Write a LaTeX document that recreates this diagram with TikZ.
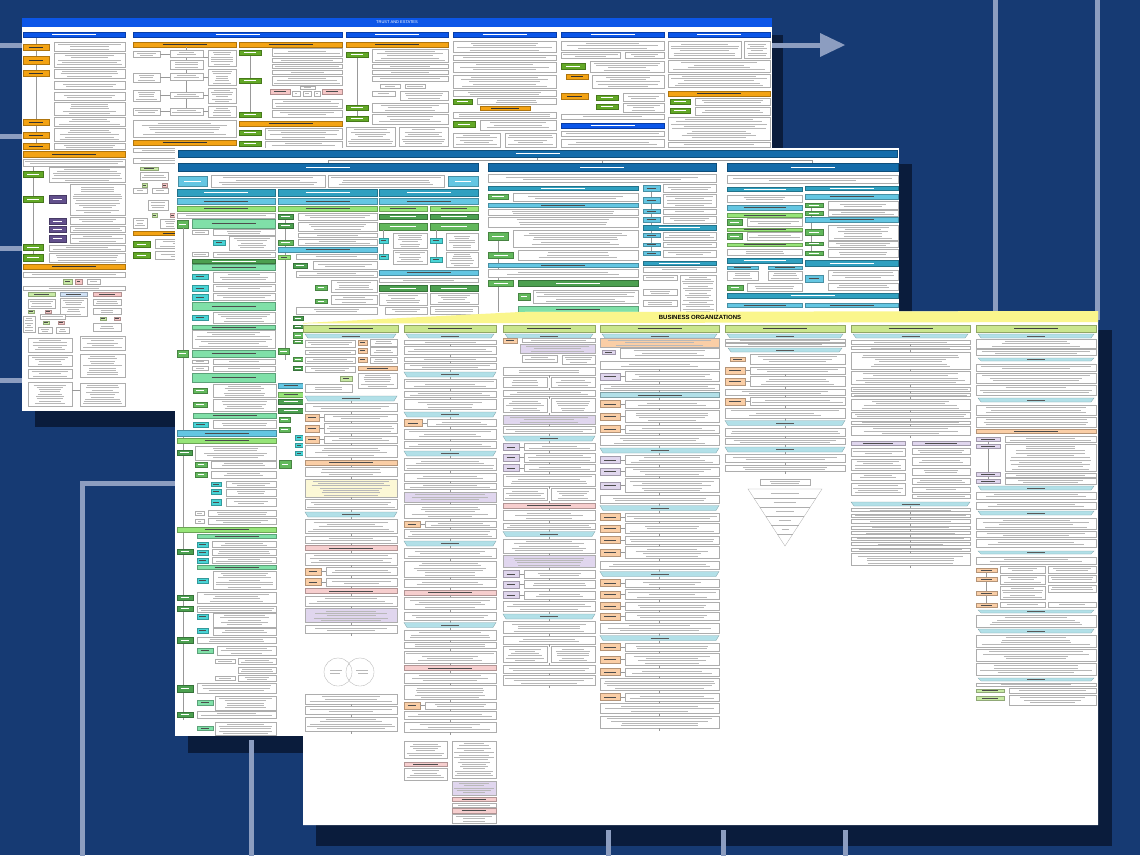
\documentclass[tikz,border=0pt]{standalone}
\usepackage{fontspec}
\newfontfamily\hfont{Liberation Sans}
\definecolor{bgnavy}{RGB}{22,58,115}
\definecolor{shad}{RGB}{10,28,60}
\definecolor{gridc}{RGB}{140,157,192}
\definecolor{sAblue}{RGB}{12,86,232}
\definecolor{sAorange}{RGB}{243,163,20}
\definecolor{sAgreen}{RGB}{98,168,38}
\definecolor{sApurple}{RGB}{98,80,140}
\definecolor{sAlgreen}{RGB}{200,234,165}
\definecolor{sApink}{RGB}{246,198,198}
\definecolor{sAlblue}{RGB}{208,226,246}
\definecolor{sBblue}{RGB}{20,108,170}
\definecolor{sBteal}{RGB}{48,160,192}
\definecolor{sBlblue}{RGB}{100,198,226}
\definecolor{sBgreen}{RGB}{98,184,92}
\definecolor{sBdgreen}{RGB}{76,160,80}
\definecolor{sBmint}{RGB}{128,224,168}
\definecolor{sBcyan}{RGB}{72,212,214}
\definecolor{sBlgreen}{RGB}{150,228,120}
\definecolor{sCgreen}{RGB}{202,230,142}
\definecolor{sClblue}{RGB}{178,224,232}
\definecolor{sCpeach}{RGB}{250,206,166}
\definecolor{sClilac}{RGB}{224,214,238}
\definecolor{sCpink}{RGB}{246,206,206}
\definecolor{sCyellow}{RGB}{250,246,140}
\definecolor{sCcream}{RGB}{252,248,214}
\tikzset{
  txl/.style={draw=black!28,line width=0.45pt},
  bx/.style={draw=black!32,line width=0.3pt},
  cn/.style={draw=black!40,line width=0.3pt},
  gridln/.style={draw=gridc,line width=5pt},
}
\def\zzgap{2.5}
\newcommand\zzTB[5]{%
  \fill[#5] (#1,#2) rectangle (#3,#4);
  \pgfmathsetmacro\zzh{#4-#2}%
  \pgfmathtruncatemacro\zzn{max(1,floor((\zzh-1.2)/2.3))}%
  \pgfmathsetmacro\zzw{(#3-#1-4)/2}%
  \pgfmathsetmacro\zzc{(#1+#3)/2}%
  \pgfmathsetmacro\zzyo{#2+(\zzh-(\zzn-1)*2.3)/2}%
  \foreach \zzk in {1,...,\zzn}{%
    \pgfmathsetmacro\zzly{\zzyo+(\zzk-1)*2.3}%
    \pgfmathsetmacro\zzlw{\zzw*(0.5+0.5*rnd)}%
    \draw[txl] (\zzc-\zzlw,\zzly) -- (\zzc+\zzlw,\zzly);
  }%
  \draw[bx] (#1,#2) rectangle (#3,#4);
}
\newcommand\zzT[4]{\zzTB{#1}{#2}{#3}{#4}{white}}
\newcommand\zzTG[6]{%
  \filldraw[fill=#5,draw=#5!72!black,line width=0.3pt] (#1,#2) rectangle (#3,#4);
  \pgfmathsetmacro\zzgc{(#1+#3)/2}%
  \pgfmathsetmacro\zzgm{(#2+#4)/2}%
  \pgfmathsetmacro\zzgw{min(22,(#3-#1)*0.28)}%
  \draw[#6,line width=0.6pt] (\zzgc-\zzgw,\zzgm) -- (\zzgc+\zzgw,\zzgm);
}
\newcommand\zzTZ[5]{%
  \pgfmathsetmacro\zzua{#1+3}\pgfmathsetmacro\zzub{#3-3}%
  \filldraw[fill=#5,draw=#5!72!black,line width=0.3pt] (#1,#2) -- (#3,#2) -- (\zzub,#4) -- (\zzua,#4) -- cycle;
  \pgfmathsetmacro\zzgc{(#1+#3)/2}\pgfmathsetmacro\zzgm{(#2+#4)/2}%
  \draw[black!65,line width=0.5pt] (\zzgc-9,\zzgm) -- (\zzgc+9,\zzgm);
}
\newcommand\zzcol[3]{\xdef\zza{#1}\xdef\zzb{#2}\xdef\zzy{#3}}
\newcommand\zzadv[1]{%
  \pgfmathsetmacro\zzt{\zzy+#1}\pgfmathsetmacro\zzcc{(\zza+\zzb)/2}%
  \draw[cn] (\zzcc,\zzt) -- (\zzcc,\zzt+\zzgap);
  \pgfmathsetmacro\zzt{\zzy+#1+\zzgap}\xdef\zzy{\zzt}}
\newcommand\zzB[1]{\pgfmathsetmacro\zze{\zzy+#1}\zzTB{\zza}{\zzy}{\zzb}{\zze}{white}\zzadv{#1}}
\newcommand\zzF[2]{\pgfmathsetmacro\zze{\zzy+#1}\zzTB{\zza}{\zzy}{\zzb}{\zze}{#2}\zzadv{#1}}
\newcommand\zzH[3]{\pgfmathsetmacro\zze{\zzy+#1}\zzTG{\zza}{\zzy}{\zzb}{\zze}{#2}{#3}\zzadv{#1}}
\newcommand\zzZ[2]{\pgfmathsetmacro\zze{\zzy+#1}\zzTZ{\zza}{\zzy}{\zzb}{\zze}{#2}\zzadv{#1}}
\newcommand\zzD[1]{\pgfmathsetmacro\zze{\zzy+#1}\pgfmathsetmacro\zzma{(\zza+\zzb)/2-2}\pgfmathsetmacro\zzmb{(\zza+\zzb)/2+2}\zzTB{\zza}{\zzy}{\zzma}{\zze}{white}\zzTB{\zzmb}{\zzy}{\zzb}{\zze}{white}\zzadv{#1}}
\newcommand\zzR[4]{%
  \pgfmathsetmacro\zze{\zzy+#1}%
  \pgfmathsetmacro\zzrm{\zzy+#1/2}%
  \pgfmathsetmacro\zzq{min(#1,7)/2}%
  \pgfmathsetmacro\zzta{\zzrm-\zzq}\pgfmathsetmacro\zztb{\zzrm+\zzq}%
  \pgfmathsetmacro\zzxt{\zza+#2}\pgfmathsetmacro\zzxb{\zza+#2+5}%
  \zzTG{\zza}{\zzta}{\zzxt}{\zztb}{#3}{#4}%
  \draw[cn] (\zzxt,\zzrm) -- (\zzxb,\zzrm);
  \zzTB{\zzxb}{\zzy}{\zzb}{\zze}{white}%
  \zzadv{#1}}
\begin{document}
\begin{tikzpicture}[x=1pt,y=-1pt]
\pgfmathsetseed{7}
\useasboundingbox (0,0) rectangle (1140,855);
\fill[bgnavy] (0,0) rectangle (1140,855);
% background grid lines
\draw[gridln] (0,45) -- (30,45);
\draw[gridln] (0,136) -- (30,136);
\draw[gridln] (0,248) -- (30,248);
\draw[gridln] (0,380) -- (30,380);
\draw[gridln] (82,860) -- (82,483) -- (180,483);
\draw[gridln] (995,-5) -- (995,320);
\draw[gridln] (1097,-5) -- (1097,320);

% ================= SHEET 1 : TRUST AND ESTATES =================
\fill[shad] (35,35) rectangle (783,427);
\fill[white] (22,18) rectangle (772,411);
\fill[sAblue] (22,18) rectangle (772,27);
\node[font=\hfont\fontsize{4}{5}\selectfont,text=white,inner sep=0pt] (t1) at (397,22.5) {TRUST AND ESTATES};
\foreach \xa/\xb in {23/125,133/342,346/448,453/556,561/664,668/770}{\zzTG{\xa}{32}{\xb}{37}{sAblue}{white}}
% col 1
\draw[cn] (36,38) -- (36,148);
\zzTG{23}{44}{49}{50}{sAorange}{black!80} \zzT{54}{42}{125}{51}
\zzTG{23}{56}{49}{64}{sAorange}{black!80} \zzT{54}{53}{125}{67}
\zzTG{23}{70}{49}{76}{sAorange}{black!80} \zzT{54}{69}{125}{78}
\zzT{54}{81}{125}{89}
\zzT{54}{92}{125}{100}
\zzT{54}{102}{125}{115}
\zzTG{23}{119}{49}{125}{sAorange}{black!80} \zzT{54}{117}{125}{126}
\zzTG{23}{132}{49}{138}{sAorange}{black!80} \zzT{54}{128}{125}{141}
\zzTG{23}{143}{49}{149}{sAorange}{black!80} \zzT{54}{143}{125}{149}
\zzTG{23}{151}{125}{157}{sAorange}{black!80}
\zzT{23}{159}{125}{166}
\draw[cn] (33,167) -- (33,257);
\zzTG{23}{171}{43}{177}{sAgreen}{white} \zzT{49}{167}{125}{182}
\zzTG{23}{196}{43}{202}{sAgreen}{white} \zzTG{49}{195}{66}{203}{sApurple}{white} \zzT{70}{184}{125}{215}
\zzTG{49}{218}{66}{224}{sApurple}{white} \zzT{70}{217}{125}{224}
\zzTG{49}{226}{66}{232}{sApurple}{white} \zzT{70}{226}{125}{232}
\zzTG{49}{235}{66}{242}{sApurple}{white} \zzT{70}{234}{125}{243}
\zzTG{23}{244}{43}{250}{sAgreen}{white} \zzT{49}{245}{125}{251}
\zzTG{23}{254}{43}{261}{sAgreen}{white} \zzT{49}{253}{125}{262}
\zzTG{23}{264}{125}{269}{sAorange}{black!80}
\zzT{23}{272}{125}{277}
\zzTG{63}{279}{72}{284}{sAlgreen}{black!70} \zzTG{75}{279}{82}{284}{sApink}{black!70} \zzT{87}{279}{100}{284}
\zzT{23}{286}{125}{290}
\zzTG{28}{292}{55}{296}{sAlgreen}{black!70} \zzTG{60}{292}{87}{296}{sAlblue}{black!70} \zzTG{93}{292}{121}{296}{sApink}{black!70}
\zzT{28}{299}{55}{308} \zzT{60}{298}{87}{316} \zzT{93}{299}{121}{305}
\zzTG{28}{310}{34}{313}{sAlgreen}{black!70} \zzTG{45}{310}{51}{313}{sApink}{black!70} \zzT{93}{308}{121}{314}
\zzT{23}{316}{35}{332} \zzT{40}{314}{65}{319}
\zzTG{100}{317}{106}{320}{sAlgreen}{black!70} \zzTG{114}{317}{120}{320}{sApink}{black!70}
\zzTG{43}{321}{49}{324}{sAlgreen}{black!70} \zzTG{58}{321}{64}{324}{sApink}{black!70} \zzT{93}{323}{121}{331}
\zzT{38}{327}{52}{333} \zzT{56}{327}{69}{333}
\zzT{28}{338}{72}{352} \zzT{28}{355}{72}{366} \zzT{28}{369}{72}{378} \zzT{28}{382}{72}{406}
\zzT{80}{336}{125}{350} \zzT{80}{354}{125}{377} \zzT{80}{383}{125}{406}
\draw[cn] (72,390) -- (80,390);
% col 2
\zzTG{133}{42}{236}{47}{sAorange}{black!80} \zzTG{239}{42}{342}{47}{sAorange}{black!80}
\draw[cn] (186,47) -- (186,108);
\zzT{133}{51}{160}{57} \zzT{170}{50}{203}{57} \zzT{208}{50}{236}{66}
\zzT{170}{60}{203}{69}
\zzT{133}{73}{160}{82} \zzT{170}{73}{203}{80} \zzT{208}{69}{236}{85}
\zzT{133}{90}{160}{101} \zzT{170}{92}{203}{98} \zzT{208}{88}{236}{103}
\zzT{133}{108}{160}{115} \zzT{170}{108}{203}{115} \zzT{208}{106}{236}{117}
\draw[cn] (160,54) -- (170,54) (160,77) -- (170,77) (160,95) -- (170,95) (160,111) -- (170,111) (203,57) -- (208,57) (203,77) -- (208,77) (203,95) -- (208,95) (203,111) -- (208,111);
\zzT{133}{120}{236}{137}
\zzTG{133}{140}{236}{145}{sAorange}{black!80}
\zzT{133}{148}{236}{152}
\zzT{133}{158}{236}{163}
\zzTG{140}{167}{158}{170}{sAlgreen}{black!70}
\zzT{140}{172}{168}{180}
\zzTG{142}{183}{147}{187}{sAlgreen}{black!70} \zzTG{162}{183}{167}{187}{sApink}{black!70}
\zzT{133}{188}{147}{193} \zzT{152}{188}{168}{193}
\zzT{148}{200}{168}{210}
\zzTG{152}{213}{157}{217}{sAlgreen}{black!70} \zzTG{170}{213}{175}{217}{sApink}{black!70}
\zzT{133}{218}{147}{228} \zzT{160}{219}{180}{228}
\zzTG{133}{231}{236}{235}{sAorange}{black!80}
\zzTG{133}{241}{150}{247}{sAgreen}{white} \zzT{155}{239}{236}{248}
\zzTG{133}{252}{150}{258}{sAgreen}{white} \zzT{155}{251}{236}{259}
\draw[cn] (250,55) -- (250,117);
\zzTG{239}{50}{261}{55}{sAgreen}{white} \zzT{272}{48}{342}{56}
\zzT{272}{58}{342}{62} \zzT{272}{64}{342}{68} \zzT{272}{70}{342}{74}
\zzTG{239}{78}{261}{83}{sAgreen}{white} \zzT{272}{76}{342}{85}
\zzT{300}{86}{315}{89}
\zzTG{270}{89}{290}{94}{sApink}{black!70} \zzTG{322}{89}{342}{94}{sApink}{black!70}
\zzT{292}{91}{300}{96} \zzT{303}{91}{311}{96} \zzT{314}{91}{320}{96}
\zzT{272}{99}{342}{108}
\zzTG{239}{112}{261}{117}{sAgreen}{white} \zzT{272}{110}{342}{117}
\zzTG{239}{121}{342}{126}{sAorange}{black!80}
\zzTG{239}{130}{261}{135}{sAgreen}{white} \zzT{265}{128}{342}{139}
\zzTG{239}{141}{261}{146}{sAgreen}{white} \zzT{265}{141}{342}{148}
% col 3
\zzTG{346}{42}{448}{47}{sAorange}{black!80}
\draw[cn] (357,57) -- (357,116);
\zzTG{346}{52}{368}{57}{sAgreen}{white} \zzT{372}{49}{448}{62}
\zzT{372}{64}{448}{68} \zzT{372}{70}{448}{74} \zzT{372}{76}{448}{81}
\zzT{380}{84}{400}{88} \zzT{405}{84}{425}{88} \zzT{372}{91}{395}{96} \zzT{400}{91}{448}{100}
\zzTG{346}{105}{368}{110}{sAgreen}{white} \zzT{372}{103}{448}{112}
\zzTG{346}{116}{368}{121}{sAgreen}{white} \zzT{372}{114}{448}{124}
\zzT{346}{127}{395}{146} \zzT{399}{127}{448}{146}
% col 4
\zzT{453}{41}{556}{52} \zzT{453}{55}{556}{60} \zzT{453}{62}{556}{72} \zzT{453}{75}{556}{88} \zzT{453}{90}{556}{96}
\zzTG{453}{99}{472}{104}{sAgreen}{white} \zzT{477}{98}{556}{104}
\zzTG{480}{106}{530}{110}{sAorange}{black!80}
\zzT{453}{112}{556}{118}
\zzTG{453}{121}{475}{127}{sAgreen}{white} \zzT{480}{120}{556}{130}
\zzT{453}{133}{500}{147} \zzT{505}{133}{556}{147}
% col 5
\zzT{561}{41}{664}{50} \zzT{561}{52}{620}{58} \zzT{625}{52}{664}{58}
\zzTG{561}{63}{585}{69}{sAgreen}{white} \zzT{590}{61}{664}{72}
\zzTG{566}{74}{588}{79}{sAorange}{black!80} \zzT{592}{75}{664}{88}
\zzTG{561}{93}{588}{99}{sAorange}{black!80}
\zzTG{596}{95}{618}{100}{sAgreen}{white} \zzT{623}{93}{664}{101}
\zzTG{596}{104}{618}{109}{sAgreen}{white} \zzT{623}{103}{664}{112}
\zzT{561}{114}{664}{119}
\zzTG{561}{123}{664}{128}{sAblue}{white}
\zzT{561}{131}{664}{136} \zzT{561}{139}{664}{147}
% col 6
\zzT{668}{41}{741}{58} \zzT{744}{41}{770}{58} \zzT{668}{60}{770}{72} \zzT{668}{74}{770}{87}
\zzTG{668}{91}{770}{96}{sAorange}{black!80}
\zzTG{670}{99}{690}{104}{sAgreen}{white} \zzT{695}{98}{770}{105}
\zzTG{670}{108}{690}{113}{sAgreen}{white} \zzT{695}{107}{770}{115}
\zzT{668}{117}{770}{140} \zzT{668}{142}{770}{147}
% arrow
\draw[gridln] (772,45) -- (822,45);
\fill[gridc] (820,33) -- (845,45) -- (820,57) -- cycle;

% ================= SHEET 2 =================
\fill[shad] (188,164) rectangle (912,753);
\draw[gridln] (251,740) -- (251,860);
\fill[white] (175,148) rectangle (899,736);
\zzTG{178}{150}{897}{157.5}{sBblue}{white}
\draw[cn] (537,157.5) -- (537,160) (328,160) -- (812,160) (328,160) -- (328,163) (602,160) -- (602,163) (812,160) -- (812,163);
\zzTG{178}{163}{478}{171}{sBblue}{white} \zzTG{488}{163}{716}{171}{sBblue}{white} \zzTG{727}{163}{898}{171}{sBblue}{white}
\zzTG{178}{176}{207}{186}{sBlblue}{white} \zzT{211}{175}{325}{187} \zzT{328}{175}{444}{187} \zzTG{448}{176}{478}{186}{sBlblue}{white}
\zzT{488}{174}{716}{182} \zzT{727}{175}{898}{183}
\foreach \xa/\xb in {177/275,278/377,379/478}{\zzTG{\xa}{189}{\xb}{196}{sBteal}{white} \zzTG{\xa}{198}{\xb}{204}{sBlblue}{black!70}}
\foreach \xa/\xb in {177/275,278/377,379/427,430/478}{\zzTG{\xa}{206}{\xb}{211}{sBlgreen}{black!70}}
% sub-col A1
\zzT{177}{213}{275}{218}
\zzTG{177}{220}{188}{228}{sBgreen}{white} \zzTG{192}{219}{275}{228}{sBmint}{black!70}
\zzT{192}{230}{208}{234} \zzT{213}{229}{275}{235}
\zzTG{213}{240}{225}{245}{sBcyan}{black!70} \zzT{229}{236}{275}{250}
\zzT{192}{252}{208}{256} \zzT{213}{252}{275}{257}
\zzTG{192}{259}{275}{263}{sBdgreen}{white}
\zzTG{192}{264}{275}{270}{sBmint}{black!70}
\zzTG{192}{274}{208}{279}{sBcyan}{black!70} \zzT{213}{272}{275}{282}
\zzTG{192}{285}{208}{291}{sBcyan}{black!70} \zzT{213}{284}{275}{291}
\zzTG{192}{294}{208}{300}{sBcyan}{black!70} \zzT{213}{293}{275}{300}
\zzTG{192}{302}{275}{310}{sBmint}{black!70}
\zzTG{192}{315}{208}{320}{sBcyan}{black!70} \zzT{213}{312}{275}{323}
\zzTG{192}{325}{275}{329}{sBmint}{black!70}
\zzT{192}{330}{275}{348}
\draw[cn] (183,228) -- (183,720);
\zzTG{177}{350}{188}{357}{sBgreen}{white} \zzTG{192}{350}{275}{357}{sBmint}{black!70}
\zzT{192}{360}{208}{363} \zzT{213}{359}{275}{364}
\zzT{192}{366}{208}{370} \zzT{213}{366}{275}{371}
\zzTG{192}{373}{275}{382}{sBmint}{black!70}
\zzTG{193}{388}{207}{393}{sBgreen}{white} \zzT{213}{384}{276}{397}
\zzTG{193}{402}{207}{407}{sBgreen}{white} \zzT{213}{399}{276}{411}
\zzTG{193}{413}{276}{418}{sBmint}{black!70}
\zzTG{193}{422}{208}{427}{sBcyan}{black!70} \zzT{213}{420}{276}{428}
\zzTG{177}{430}{276}{436}{sBlblue}{black!70}
\zzTG{177}{438}{276}{443}{sBlgreen}{black!70}
\zzTG{177}{450}{192}{455}{sBdgreen}{white} \zzT{195}{446}{276}{460}
\zzTG{195}{462}{207}{467}{sBgreen}{white} \zzT{211}{461}{276}{468}
\zzTG{195}{472}{207}{477}{sBgreen}{white} \zzT{211}{471}{276}{478}
\zzTG{211}{482}{221}{486}{sBcyan}{black!70} \zzT{226}{481}{276}{487}
\zzTG{211}{489}{221}{494}{sBcyan}{black!70} \zzT{226}{489}{276}{496}
\zzTG{211}{499}{221}{505}{sBcyan}{black!70} \zzT{226}{498}{276}{506}
\zzT{195}{511}{204}{515} \zzT{208}{510}{276}{516}
\zzT{195}{519}{204}{523} \zzT{208}{518}{276}{524}
\zzTG{177}{527}{276}{532}{sBlgreen}{black!70}
\zzTG{197}{534}{276}{538}{sBmint}{black!70}
\zzTG{177}{549}{193}{554}{sBdgreen}{white}
\zzTG{197}{542}{208}{547}{sBcyan}{black!70} \zzT{212}{541}{276}{547}
\zzTG{197}{550}{208}{555}{sBcyan}{black!70} \zzT{212}{549}{276}{555}
\zzTG{197}{558}{208}{563}{sBcyan}{black!70} \zzT{212}{557}{276}{563}
\zzTG{197}{565}{276}{569}{sBmint}{black!70}
\zzTG{197}{578}{208}{583}{sBcyan}{black!70} \zzT{213}{571}{276}{589}
\zzTG{177}{595}{193}{600}{sBdgreen}{white} \zzT{197}{592}{276}{603}
\zzTG{177}{606}{193}{611}{sBdgreen}{white} \zzT{197}{606}{276}{612}
\zzTG{197}{614}{208}{619}{sBcyan}{black!70} \zzT{213}{613}{276}{627}
\zzTG{197}{628}{208}{633}{sBcyan}{black!70} \zzT{213}{628}{276}{635}
\zzTG{177}{637}{193}{643}{sBdgreen}{white} \zzT{197}{637}{276}{643}
\zzTG{197}{648}{213}{653}{sBmint}{black!70} \zzT{217}{646}{276}{655}
\zzT{215}{659}{235}{663} \zzT{238}{658}{276}{664}
\zzT{238}{667}{276}{673}
\zzT{215}{676}{235}{680} \zzT{238}{675}{276}{681}
\zzTG{177}{685}{193}{692}{sBdgreen}{white} \zzT{197}{683}{276}{693}
\zzTG{197}{700}{213}{705}{sBmint}{black!70} \zzT{215}{696}{276}{710}
\zzTG{177}{712}{193}{717}{sBdgreen}{white} \zzT{197}{711}{276}{718}
\zzTG{197}{726}{213}{730}{sBmint}{black!70} \zzT{215}{722}{276}{735}
% sub-col A2
\draw[cn] (285,219) -- (285,360);
\zzTG{278}{214}{293}{219}{sBdgreen}{white} \zzT{298}{213}{377}{220}
\zzTG{278}{223}{293}{228}{sBdgreen}{white} \zzT{298}{222}{377}{231}
\zzT{298}{233}{377}{237}
\zzTG{278}{240}{293}{245}{sBgreen}{white} \zzT{298}{239}{377}{245}
\zzTG{278}{247}{377}{252}{sBlblue}{black!70}
\zzTG{278}{255}{290}{259}{sBlgreen}{black!70} \zzT{296}{254}{377}{259}
\zzTG{293}{263}{307}{268}{sBdgreen}{white} \zzT{313}{261}{377}{269}
\zzT{296}{271}{377}{277}
\zzTG{315}{285}{327}{290}{sBgreen}{white} \zzT{331}{280}{377}{292}
\zzTG{315}{299}{327}{303}{sBgreen}{white} \zzT{331}{295}{377}{304}
\zzT{296}{307}{377}{314}
\zzTG{293}{316}{303}{320}{sBdgreen}{white}
\zzTG{293}{325}{303}{328}{sBdgreen}{white}
\zzTG{293}{332}{303}{338}{sBgreen}{white}
\zzTG{293}{340}{303}{343}{sBgreen}{white}
\zzTG{278}{348}{289}{354}{sBgreen}{white}
\zzTG{293}{357}{303}{361}{sBgreen}{white}
\zzTG{293}{366}{303}{370}{sBdgreen}{white}
\zzTG{278}{383}{303}{388}{sBlblue}{black!70}
\zzTG{278}{392}{303}{397}{sBlgreen}{black!70}
\zzTG{278}{399}{303}{404}{sBdgreen}{white}
\zzTG{278}{408}{303}{413}{sBdgreen}{white}
\zzTG{279}{417}{290}{422}{sBgreen}{white}
\zzTG{279}{427}{290}{432}{sBgreen}{white}
\zzTG{295}{435}{303}{440}{sBcyan}{black!70}
\zzTG{295}{443}{303}{447}{sBcyan}{black!70}
\zzTG{295}{451}{303}{455}{sBcyan}{black!70}
\zzTG{279}{460}{291}{468}{sBgreen}{white}
% sub-col A3
\zzTG{379}{214}{427}{219}{sBdgreen}{white} \zzTG{430}{214}{478}{219}{sBdgreen}{white}
\zzTG{379}{223}{427}{230}{sBgreen}{white} \zzTG{430}{223}{478}{230}{sBgreen}{white}
\draw[cn] (383,230) -- (383,258) (436,230) -- (436,260);
\zzTG{379}{238}{388}{243}{sBcyan}{black!70} \zzT{393}{233}{427}{248}
\zzTG{379}{254}{388}{259}{sBcyan}{black!70} \zzT{393}{250}{427}{264}
\zzTG{430}{238}{442}{243}{sBcyan}{black!70} \zzT{446}{233}{478}{250}
\zzTG{430}{257}{442}{262}{sBcyan}{black!70} \zzT{446}{252}{478}{267}
\zzTG{379}{270}{478}{275}{sBlblue}{black!70}
\zzT{379}{278}{478}{282}
\zzTG{379}{285}{427}{291}{sBdgreen}{white} \zzTG{430}{285}{478}{291}{sBdgreen}{white}
\zzT{379}{293}{427}{305} \zzT{430}{293}{478}{304} \zzT{385}{307}{427}{314} \zzT{430}{306}{478}{314}
% col B1
\zzTG{488}{186}{638}{190}{sBteal}{white}
\zzTG{488}{194}{508}{199}{sBgreen}{white} \zzT{513}{193}{638}{201}
\zzTG{488}{203}{638}{207}{sBlblue}{black!70}
\zzT{488}{209}{638}{215}
\zzT{488}{217}{638}{227}
\draw[cn] (498,240) -- (498,312);
\zzTG{488}{232}{508}{240}{sBgreen}{white} \zzT{513}{230}{638}{247}
\zzTG{488}{252}{513}{258}{sBgreen}{white} \zzT{518}{250}{638}{260}
\zzTG{488}{263}{638}{267}{sBlblue}{black!70}
\zzT{488}{269}{638}{277}
\zzTG{488}{280}{513}{286}{sBgreen}{white} \zzTG{518}{280}{638}{286}{sBdgreen}{white}
\zzTG{518}{293}{530}{300}{sBgreen}{white} \zzT{533}{290}{638}{303}
\zzTG{518}{306}{638}{312}{sBmint}{black!70}
% col B2
\draw[cn] (651,191) -- (651,255);
\zzTG{643}{185}{660}{191}{sBlblue}{black!70} \zzT{663}{184}{716}{192}
\zzTG{643}{197}{660}{203}{sBlblue}{black!70} \zzT{663}{194}{716}{207}
\zzTG{643}{209}{660}{213}{sBlblue}{black!70} \zzT{663}{209}{716}{214}
\zzTG{643}{217}{660}{222}{sBlblue}{black!70} \zzT{663}{216}{716}{223}
\zzTG{643}{225}{716}{230}{sBteal}{white}
\zzTG{643}{233}{660}{237}{sBlblue}{black!70} \zzT{663}{232}{716}{240}
\zzTG{643}{243}{660}{246}{sBlblue}{black!70} \zzT{663}{242}{716}{247}
\zzTG{643}{251}{660}{255}{sBlblue}{black!70} \zzT{663}{250}{716}{257}
\zzTG{643}{261}{716}{265}{sBteal}{white}
\zzT{643}{267}{716}{272}
\zzT{643}{275}{677}{280} \zzT{680}{275}{716}{313}
\zzT{643}{289}{677}{295} \zzT{643}{300}{677}{306}
% col C1
\zzTG{727}{187}{802}{191}{sBteal}{white}
\zzT{727}{195}{802}{202}
\zzTG{727}{205}{802}{210}{sBlblue}{black!70}
\zzTG{727}{213}{802}{217}{sBlgreen}{black!70}
\zzTG{727}{219}{742}{225}{sBgreen}{white} \zzT{747}{218}{802}{226}
\zzTG{727}{228}{802}{231}{sBlgreen}{black!70}
\zzTG{727}{233}{742}{239}{sBgreen}{white} \zzT{747}{232}{802}{240}
\zzTG{727}{243}{802}{246}{sBlgreen}{black!70}
\zzT{727}{249}{802}{255}
\zzTG{727}{258}{802}{263}{sBteal}{white}
\zzTG{727}{266}{758}{269}{sBlblue}{black!70} \zzTG{768}{266}{802}{269}{sBlblue}{black!70}
\zzT{727}{271}{758}{280} \zzT{768}{271}{802}{280}
\zzTG{727}{285}{743}{290}{sBgreen}{white} \zzT{747}{283}{802}{291}
\zzTG{727}{293}{898}{298}{sBteal}{white}
\zzTG{727}{303}{802}{307}{sBlblue}{black!70} \zzTG{805}{303}{898}{307}{sBlblue}{black!70}
% col C2
\draw[cn] (811,207) -- (811,255);
\zzTG{805}{186}{898}{190}{sBteal}{white}
\zzTG{805}{194}{898}{199}{sBlblue}{black!70}
\zzTG{805}{203}{823}{207}{sBgreen}{white} \zzT{828}{201}{898}{209}
\zzTG{805}{211}{823}{215}{sBgreen}{white} \zzT{828}{210}{898}{216}
\zzTG{805}{217}{898}{222}{sBlblue}{black!70}
\zzTG{805}{229}{823}{235}{sBgreen}{white} \zzT{828}{225}{898}{240}
\zzTG{805}{242}{823}{245}{sBgreen}{white} \zzT{828}{241}{898}{247}
\zzTG{805}{251}{823}{255}{sBgreen}{white} \zzT{828}{249}{898}{257}
\zzTG{805}{260}{898}{266}{sBteal}{white}
\zzTG{805}{275}{823}{282}{sBlblue}{black!70} \zzT{828}{270}{898}{280} \zzT{828}{283}{898}{290}

% ================= SHEET 3 : BUSINESS ORGANIZATIONS =================
\fill[shad] (316,330) rectangle (1112,846);
\draw[gridln] (608,830) -- (608,860);
\draw[gridln] (723,830) -- (723,860);
\draw[gridln] (845,830) -- (845,860);
\fill[white] (303,323) -- (520,312) -- (1098,311) -- (1098,825) -- (303,825) -- cycle;
\fill[sCyellow] (303,323) -- (520,312) -- (1098,311) -- (1098,322) -- (303,323.5) -- cycle;
\node[font=\hfont\bfseries\fontsize{6}{7}\selectfont,inner sep=0pt] (t3) at (700,317) {BUSINESS ORGANIZATIONS};
\foreach \xa/\xb in {303/398,404/496,503/595,600/719,725/845,851/970,976/1096}{\zzTG{\xa}{325}{\xb}{332}{sCgreen}{black!75}}
\foreach \xa/\xb in {305/396,406/494,505/593,602/717,727/843,853/968,978/1094}{\zzTZ{\xa}{334}{\xb}{338}{sClblue}}
% c1
\zzT{305}{340}{355}{347} \zzT{305}{350}{355}{354} \zzT{305}{357}{355}{363} \zzT{305}{366}{355}{372}
\zzTG{358}{340}{367}{345}{sCpeach}{black!70} \zzT{370}{339}{397}{346}
\zzTG{358}{348}{367}{353}{sCpeach}{black!70} \zzT{370}{347}{397}{355}
\zzTG{358}{357}{367}{362}{sCpeach}{black!70} \zzT{370}{357}{397}{363}
\zzTG{358}{366}{397}{370}{sCpeach}{black!70}
\zzT{358}{373}{397}{388}
\zzTG{340}{376}{352}{381}{sAlgreen}{black!70}
\zzT{305}{384}{352}{392}
\zzcol{305}{397}{396}
\zzZ{5}{sClblue} \zzB{8}
\zzR{7}{14}{sCpeach}{black!70} \zzR{10}{14}{sCpeach}{black!70} \zzR{7}{14}{sCpeach}{black!70}
\zzB{12} \zzH{5}{sCpeach}{black!70} \zzB{9}
\zzF{18}{sCcream} \zzB{10} \zzZ{5}{sClblue} \zzB{14} \zzB{7}
\zzH{5}{sCpink}{black!70} \zzB{12}
\zzR{8}{16}{sCpeach}{black!70} \zzR{8}{16}{sCpeach}{black!70}
\zzH{5}{sCpink}{black!70} \zzB{10} \zzF{14}{sClilac} \zzB{8}
\draw[bx,fill=white] (338,672) circle (14);
\draw[bx] (360,672) circle (14);
\draw[txl] (330,670) -- (342,670) (330,673) -- (340,673) (356,670) -- (368,670) (358,673) -- (368,673);
\zzcol{305}{397}{694}
\zzB{10} \zzB{8} \zzB{14}
% c2
\zzcol{404}{496}{340}
\zzB{4} \zzB{8} \zzB{4} \zzB{6} \zzZ{5}{sClblue}
\zzB{9} \zzB{6} \zzB{10} \zzZ{5}{sClblue}
\zzR{7}{18}{sCpeach}{black!70} \zzB{10} \zzB{7} \zzZ{5}{sClblue}
\zzB{12} \zzB{8} \zzB{6} \zzF{10}{sClilac} \zzB{14}
\zzR{6}{16}{sCpeach}{black!70} \zzB{9} \zzZ{5}{sClblue}
\zzB{10} \zzB{16} \zzB{8} \zzH{5}{sCpink}{black!70} \zzB{12} \zzB{8} \zzZ{5}{sClblue}
\zzB{10} \zzB{6} \zzB{12} \zzH{5}{sCpink}{black!70} \zzB{10}
\zzB{14} \zzR{7}{16}{sCpeach}{black!70} \zzB{8} \zzB{10}
\zzT{404}{741}{447}{758} \zzTG{404}{762}{447}{766}{sCpink}{black!70} \zzT{404}{768}{447}{780}
\zzT{452}{741}{496}{778} \zzTB{452}{781}{496}{795}{sClilac} \zzTG{452}{797}{496}{801}{sCpink}{black!70}
\zzT{452}{803}{496}{807} \zzTG{452}{808}{496}{813}{sCpink}{black!70} \zzT{452}{814}{496}{823}
% c3
\zzTG{503}{338}{517}{343}{sCpeach}{black!70} \zzT{522}{338}{595}{342}
\zzTB{520}{344}{595}{353}{sClilac}
\zzT{522}{355}{557}{362} \zzT{562}{355}{595}{364}
\zzcol{503}{595}{367}
\zzB{8} \zzD{10} \zzB{6} \zzD{14} \zzF{9}{sClilac} \zzB{7} \zzZ{5}{sClblue}
\zzR{7}{16}{sClilac}{black!70} \zzR{9}{16}{sClilac}{black!70} \zzR{7}{16}{sClilac}{black!70}
\zzB{12} \zzD{12} \zzH{5}{sCpink}{black!70} \zzB{10} \zzB{6} \zzZ{5}{sClblue}
\zzB{14} \zzF{12}{sClilac}
\zzR{8}{16}{sClilac}{black!70} \zzR{8}{16}{sClilac}{black!70} \zzR{8}{16}{sClilac}{black!70}
\zzB{10} \zzZ{5}{sClblue} \zzB{12} \zzB{8} \zzD{16} \zzB{8} \zzB{10}
% c4
\zzTB{600}{338}{719}{347}{sCpeach}
\zzTG{602}{350}{615}{354}{sClilac}{black!70} \zzT{620}{348}{719}{358}
\zzcol{600}{719}{361}
\zzB{8} \zzR{10}{20}{sClilac}{black!70} \zzB{6} \zzH{5}{sClblue}{black!70}
\zzR{8}{20}{sCpeach}{black!70} \zzR{12}{20}{sCpeach}{black!70} \zzR{8}{20}{sCpeach}{black!70}
\zzB{10} \zzZ{5}{sClblue}
\zzR{9}{20}{sClilac}{black!70} \zzR{9}{20}{sClilac}{black!70} \zzR{14}{20}{sClilac}{black!70}
\zzB{8} \zzZ{5}{sClblue}
\zzR{8}{20}{sCpeach}{black!70} \zzR{10}{20}{sCpeach}{black!70} \zzR{8}{20}{sCpeach}{black!70} \zzR{12}{20}{sCpeach}{black!70}
\zzB{8} \zzZ{5}{sClblue}
\zzR{8}{20}{sCpeach}{black!70} \zzR{10}{20}{sCpeach}{black!70} \zzR{8}{20}{sCpeach}{black!70} \zzR{8}{20}{sCpeach}{black!70}
\zzB{10} \zzZ{5}{sClblue}
\zzR{8}{20}{sCpeach}{black!70} \zzR{12}{20}{sCpeach}{black!70} \zzR{8}{20}{sCpeach}{black!70}
\zzB{12} \zzR{8}{20}{sCpeach}{black!70} \zzB{10} \zzB{12}
% c5
\zzT{725}{339}{845}{342} \zzT{725}{343}{845}{346}
\zzTZ{728}{348}{842}{352}{sClblue}
\zzTG{730}{357}{745}{361}{sCpeach}{black!70} \zzT{750}{354}{845}{364}
\zzcol{725}{845}{367}
\zzR{7}{20}{sCpeach}{black!70} \zzR{10}{20}{sCpeach}{black!70} \zzB{6} \zzR{8}{20}{sCpeach}{black!70}
\zzB{10} \zzZ{5}{sClblue} \zzB{8} \zzB{6} \zzZ{5}{sClblue} \zzB{8} \zzB{6}
\zzT{760}{479}{810}{485}
\draw[bx,fill=white] (748,489) -- (822,489) -- (785,546) -- cycle;
\foreach \yy in {498,507,516,525,534}{
  \pgfmathsetmacro\hw{37*(1-(\yy-489)/57)}
  \draw[bx] (785-\hw,\yy) -- (785+\hw,\yy);
  \pgfmathsetmacro\tw{0.45*\hw}
  \draw[txl] (785-\tw,\yy-4.5) -- (785+\tw,\yy-4.5);
}
% c6
\zzcol{851}{970}{340}
\zzB{4} \zzB{3} \zzB{17} \zzB{13} \zzB{4} \zzB{3} \zzB{11} \zzB{6} \zzB{3} \zzB{9}
\zzTG{851}{441}{905}{445}{sClilac}{black!70} \zzTG{912}{441}{970}{445}{sClilac}{black!70}
\zzT{851}{448}{905}{456} \zzT{851}{459}{905}{470} \zzT{851}{473}{905}{480} \zzT{851}{483}{905}{495}
\zzT{912}{448}{970}{454} \zzT{912}{457}{970}{465} \zzT{912}{468}{970}{475} \zzT{912}{478}{970}{484} \zzT{912}{487}{970}{492} \zzT{912}{494}{970}{498}
\zzcol{851}{970}{502}
\zzZ{4}{sClblue} \zzB{3} \zzB{3} \zzB{4} \zzB{3} \zzB{3} \zzB{3} \zzB{3} \zzB{3} \zzB{12}
% c7
\zzT{976}{339}{1096}{348} \zzT{976}{349}{1096}{355}
\zzTZ{978}{358}{1094}{361}{sClblue}
\zzT{976}{364}{1096}{371} \zzT{976}{373}{1096}{383} \zzT{976}{385}{1096}{395}
\zzTZ{978}{398}{1094}{402}{sClblue}
\zzT{976}{405}{1096}{415} \zzT{976}{417}{1096}{427}
\zzTG{976}{429}{1096}{433}{sCpeach}{black!70}
\draw[cn] (988,441) -- (988,481);
\zzTG{976}{437}{1000}{441}{sClilac}{black!70} \zzT{1005}{436}{1096}{442}
\zzTG{976}{444}{1000}{448}{sClilac}{black!70} \zzT{1005}{444}{1096}{471}
\zzTG{976}{472}{1000}{476}{sClilac}{black!70} \zzT{1005}{473}{1096}{477}
\zzTG{976}{479}{1000}{483}{sClilac}{black!70} \zzT{1005}{478}{1096}{484}
\zzTZ{978}{486}{1094}{490}{sClblue}
\zzT{976}{492}{1096}{499} \zzT{976}{502}{1096}{509}
\zzTZ{978}{511}{1094}{515}{sClblue}
\zzT{976}{518}{1096}{529} \zzT{976}{531}{1096}{537} \zzT{976}{539}{1096}{547}
\zzTZ{978}{551}{1094}{554}{sClblue}
\zzT{976}{557}{1096}{564}
\draw[cn] (986,572) -- (986,603);
\zzTG{976}{568}{997}{572}{sCpeach}{black!70} \zzT{1000}{566}{1045}{573} \zzT{1048}{566}{1096}{573}
\zzTG{976}{577}{997}{581}{sCpeach}{black!70} \zzT{1000}{575}{1045}{584} \zzT{1048}{575}{1096}{582}
\zzTG{976}{591}{997}{595}{sCpeach}{black!70} \zzT{1000}{586}{1045}{599} \zzT{1048}{585}{1096}{592}
\zzTG{976}{603}{997}{607}{sCpeach}{black!70} \zzT{1000}{602}{1045}{607} \zzT{1048}{602}{1096}{607}
\zzTZ{978}{610}{1094}{613}{sClblue}
\zzT{976}{615}{1096}{627}
\zzTZ{978}{629}{1094}{633}{sClblue}
\zzT{976}{635}{1096}{647} \zzT{976}{649}{1096}{661} \zzT{976}{663}{1096}{675}
\zzTZ{978}{678}{1094}{681}{sClblue}
\zzT{976}{683}{1096}{686}
\zzTG{976}{689}{1004}{692}{sAlgreen}{black!70} \zzT{1009}{688}{1096}{693}
\zzTG{976}{696}{1004}{700}{sAlgreen}{black!70} \zzT{1009}{695}{1096}{705}
\end{tikzpicture}
\end{document}
